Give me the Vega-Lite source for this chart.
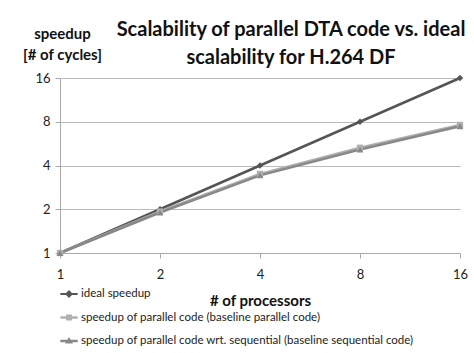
{
  "$schema": "https://vega.github.io/schema/vega-lite/v6.json",
  "width": 400,
  "height": 175,
  "autosize": "none",
  "padding": {"left": 60, "top": 78, "right": 14, "bottom": 100},
  "background": "white",
  "config": {"view": {"stroke": null}, "font": "Lato"},
  "title": {
    "text": ["Scalability of parallel DTA code vs. ideal", "scalability for H.264 DF"],
    "font": "Lato", "fontSize": 20, "fontWeight": "bold", "color": "#111",
    "anchor": "middle", "dx": 31, "dy": 59, "lineHeight": 28, "offset": 17
  },
  "data": {"values": [
    {"series": "ideal speedup", "p": 1, "s": 1},
    {"series": "ideal speedup", "p": 2, "s": 2},
    {"series": "ideal speedup", "p": 4, "s": 4},
    {"series": "ideal speedup", "p": 8, "s": 8},
    {"series": "ideal speedup", "p": 16, "s": 16},
    {"series": "speedup of parallel code (baseline parallel code)", "p": 1, "s": 1},
    {"series": "speedup of parallel code (baseline parallel code)", "p": 2, "s": 1.93},
    {"series": "speedup of parallel code (baseline parallel code)", "p": 4, "s": 3.5},
    {"series": "speedup of parallel code (baseline parallel code)", "p": 8, "s": 5.3},
    {"series": "speedup of parallel code (baseline parallel code)", "p": 16, "s": 7.6},
    {"series": "speedup of parallel code wrt. sequential (baseline sequential code)", "p": 1, "s": 1},
    {"series": "speedup of parallel code wrt. sequential (baseline sequential code)", "p": 2, "s": 1.9},
    {"series": "speedup of parallel code wrt. sequential (baseline sequential code)", "p": 4, "s": 3.42},
    {"series": "speedup of parallel code wrt. sequential (baseline sequential code)", "p": 8, "s": 5.15},
    {"series": "speedup of parallel code wrt. sequential (baseline sequential code)", "p": 16, "s": 7.45}
  ]},
  "encoding": {
    "x": {"field": "p", "type": "quantitative",
      "scale": {"type": "log", "base": 2, "domain": [1, 16], "nice": false},
      "axis": {"values": [1, 2, 4, 8, 16], "grid": false, "title": "# of processors",
        "titleFont": "Lato", "titleFontSize": 15, "titleFontWeight": "bold", "titleColor": "#111",
        "titleX": 200, "titleY": 47, "titleBaseline": "middle", "titleAnchor": "middle",
        "labelFont": "Lato", "labelFontSize": 13, "labelColor": "#222", "labelPadding": 10,
        "tickSize": 5, "tickColor": "#aaa", "domainColor": "#aaa", "labelFlush": false}},
    "y": {"field": "s", "type": "quantitative",
      "scale": {"type": "log", "base": 2, "domain": [1, 16], "nice": false},
      "axis": {"values": [1, 2, 4, 8, 16], "gridColor": "#bbb", "title": ["speedup", "[# of cycles]"],
        "titleFont": "Lato", "titleFontSize": 15, "titleFontWeight": "bold", "titleColor": "#111",
        "titleAngle": 0, "titleAlign": "center", "titleBaseline": "top", "titleX": 2, "titleY": -52, "titleLineHeight": 21,
        "labelFont": "Lato", "labelFontSize": 13, "labelColor": "#222", "labelPadding": 5,
        "tickSize": 5, "tickColor": "#aaa", "domainColor": "#aaa"}},
    "color": {"field": "series", "type": "nominal",
      "scale": {"domain": ["ideal speedup", "speedup of parallel code (baseline parallel code)", "speedup of parallel code wrt. sequential (baseline sequential code)"],
        "range": ["#555555", "#b0b0b0", "#888888"]},
      "legend": {"orient": "none", "legendX": 0, "legendY": 207, "title": null,
        "labelFont": "Lato", "labelFontSize": 11.5, "labelColor": "#222", "labelLimit": 400,
        "symbolSize": 300, "symbolStrokeWidth": 0, "symbolOpacity": 1, "rowPadding": 8.5, "labelOffset": 3,
        "encode": {"symbols": {"update": {"opacity": {"value": 1}, "fillOpacity": {"value": 1}}}}}}
  },
  "layer": [
    {
      "mark": {"type": "line", "strokeWidth": 2.5},
      "encoding": {"order": {"field": "p"}}
    },
    {
      "transform": [{"filter": "datum.series === 'ideal speedup'"}],
      "mark": {"type": "point", "filled": true, "opacity": 1, "size": 40, "shape": "diamond"}
    },
    {
      "transform": [{"filter": "datum.series === 'speedup of parallel code (baseline parallel code)'"}],
      "mark": {"type": "point", "filled": true, "opacity": 1, "size": 40, "shape": "square"}
    },
    {
      "transform": [{"filter": "datum.series === 'speedup of parallel code wrt. sequential (baseline sequential code)'"}],
      "mark": {"type": "point", "filled": true, "opacity": 1, "size": 45, "shape": "triangle-up"}
    },
    {
      "mark": {"type": "point", "filled": true, "opacity": 0},
      "encoding": {
        "shape": {"field": "series", "type": "nominal",
          "scale": {"domain": ["ideal speedup", "speedup of parallel code (baseline parallel code)", "speedup of parallel code wrt. sequential (baseline sequential code)"],
            "range": ["M-1,-0.12H1V0.12H-1Z M0,-0.46L0.46,0L0,0.46L-0.46,0Z", "M-1,-0.14H1V0.14H-1Z M-0.35,-0.35H0.35V0.35H-0.35Z", "M-1,-0.14H1V0.14H-1Z M0,-0.46L0.46,0.3H-0.46Z"]}}
      }
    }
  ]
}
